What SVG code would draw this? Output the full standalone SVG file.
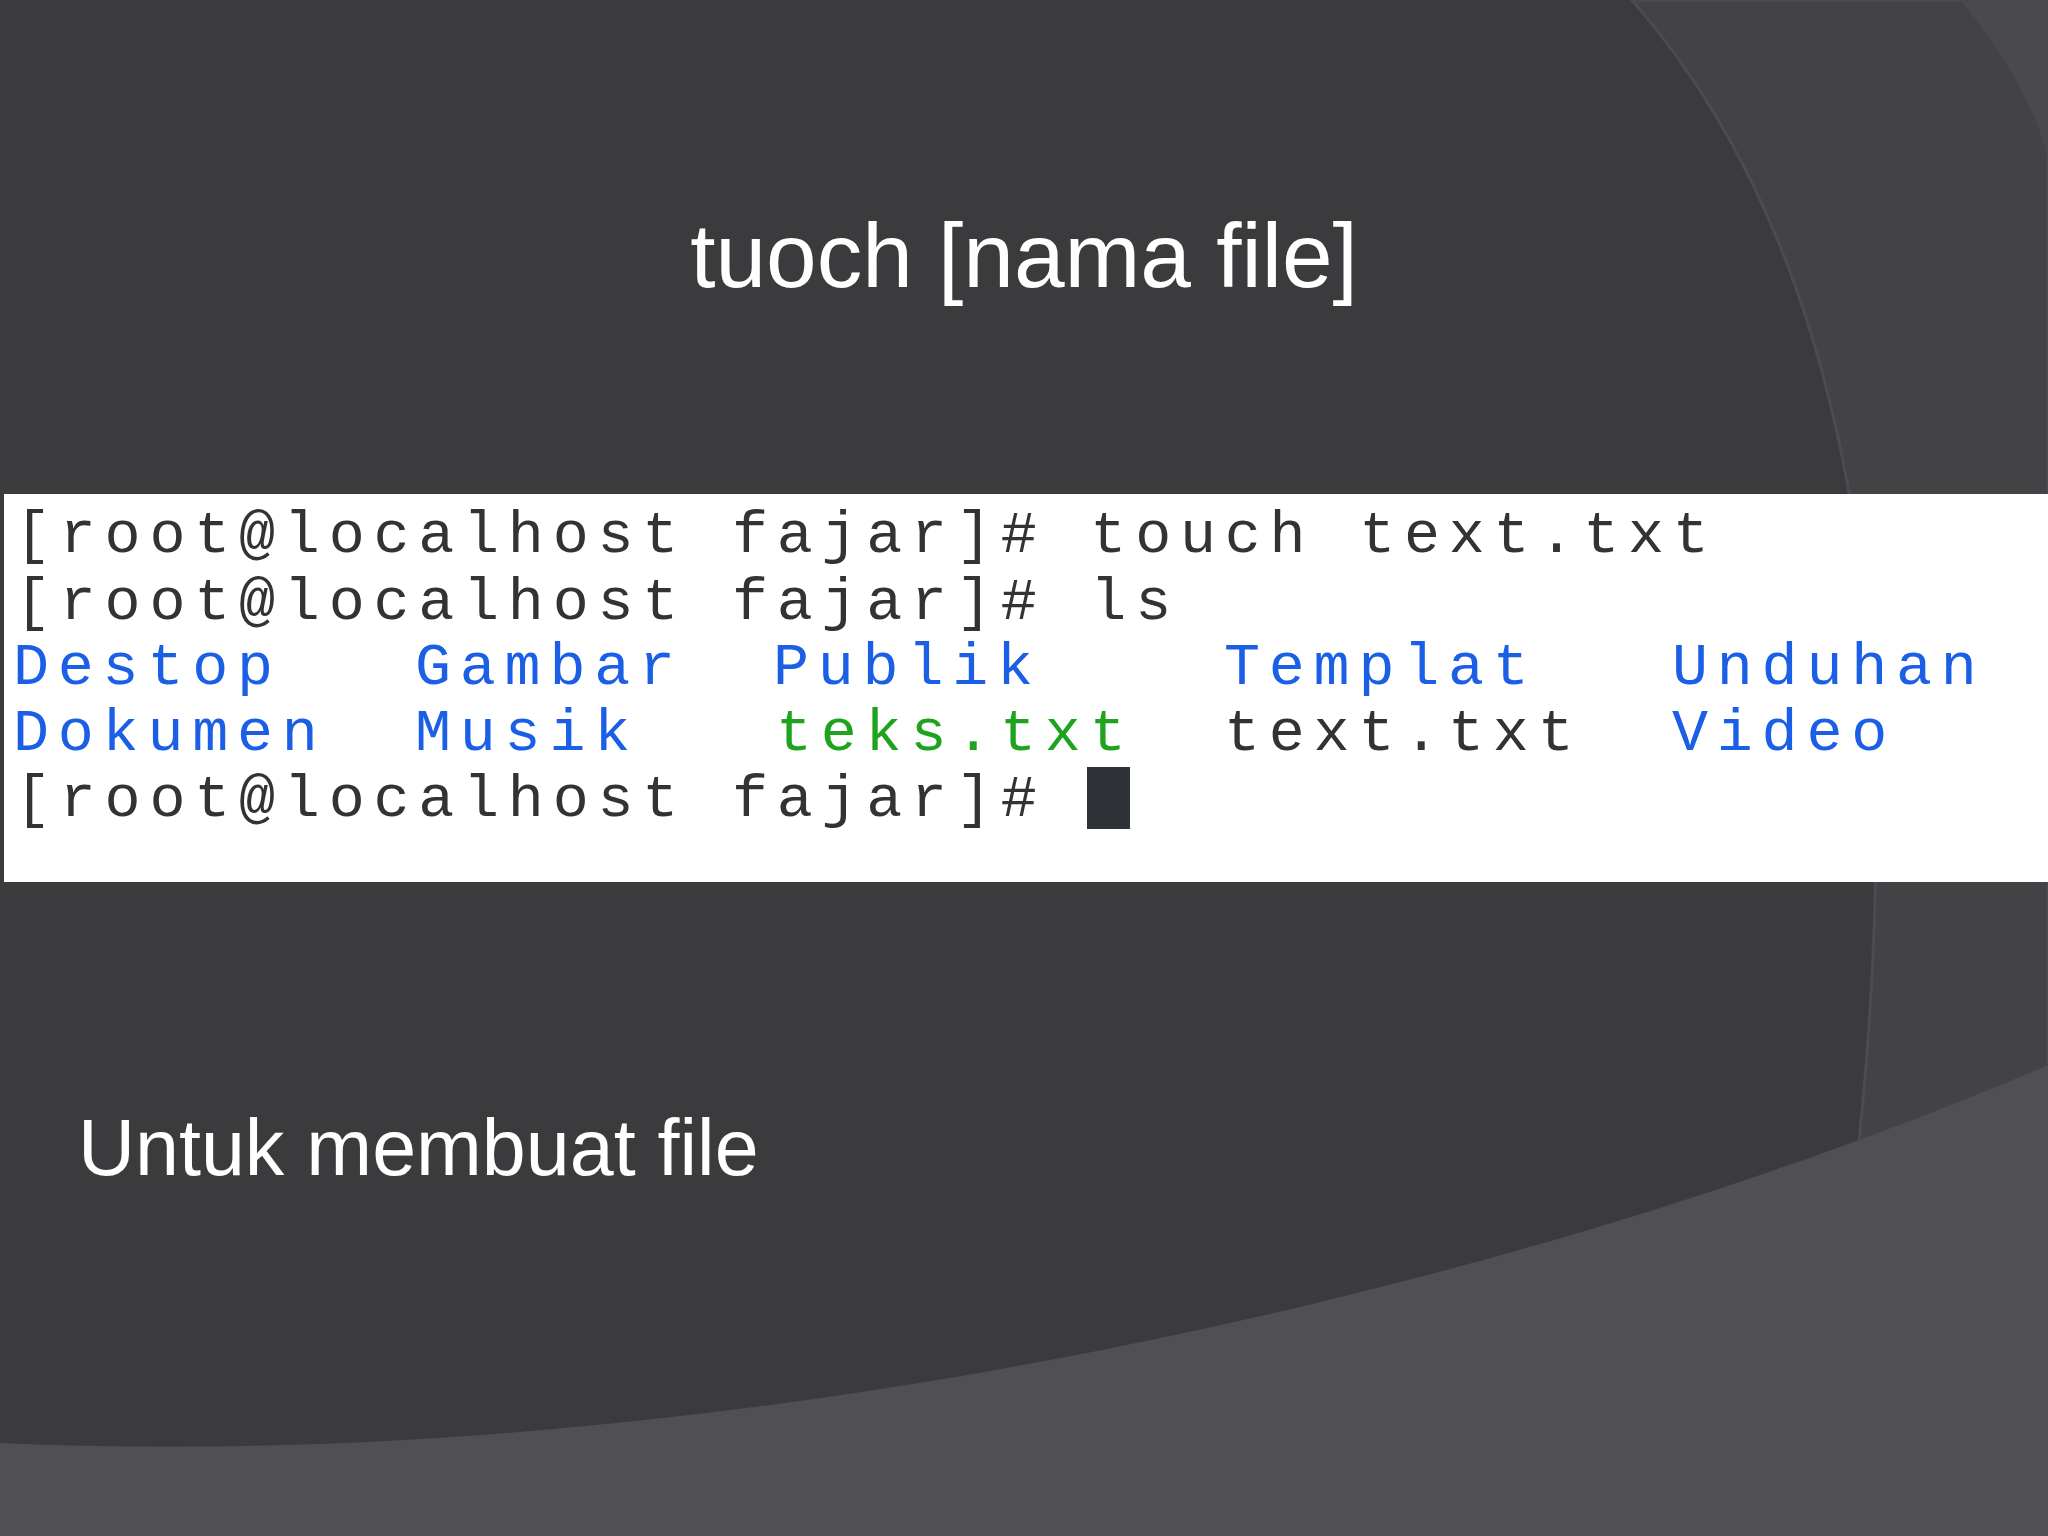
<svg xmlns="http://www.w3.org/2000/svg" width="2048" height="1536" viewBox="0 0 2048 1536">
<style>
.t{font-family:"Liberation Mono",monospace;font-size:60px;letter-spacing:8.8px;white-space:pre}
.d{fill:#333}.b{fill:#1a5fe6}.g{fill:#1fa31f}
.h{font-family:"Liberation Sans",Arial,sans-serif;fill:#fff}
</style>
<rect width="2048" height="1536" fill="#3b3b3d"/>
<g id="bg">
<path d="M1632,0 C1850,250 1960,700 1800,1536 L2048,1536 L2048,0 Z" fill="#434346" stroke="#4c4c50" stroke-width="3"/>
<path d="M1960,0 C2010,60 2040,120 2048,160 L2048,0 Z" fill="#4a4a4d"/>
<path d="M0,1443 C700,1475 1500,1300 2048,1065 L2048,1536 L0,1536 Z" fill="#505053"/>
</g>
<g id="title"><text class="h" x="1024" y="287" font-size="91" text-anchor="middle">tuoch [nama file]</text></g>
<g id="terminal">
<rect x="4" y="494" width="2044" height="388" fill="#fff"/>
<text class="t d" x="15" y="552">[root@localhost fajar]# touch text.txt</text>
<text class="t d" x="15" y="619">[root@localhost fajar]# ls</text>
<text class="t b" x="13" y="684">Destop</text>
<text class="t b" x="415" y="684">Gambar</text>
<text class="t b" x="773" y="684">Publik</text>
<text class="t b" x="1224" y="684">Templat</text>
<text class="t b" x="1672" y="684">Unduhan</text>
<text class="t b" x="13" y="750">Dokumen</text>
<text class="t b" x="415" y="750">Musik</text>
<text class="t g" x="776" y="750">teks.txt</text>
<text class="t d" x="1224" y="750">text.txt</text>
<text class="t b" x="1672" y="750">Video</text>
<text class="t d" x="15" y="816">[root@localhost fajar]#</text>
<rect x="1087" y="767" width="43" height="62" fill="#2f3338"/>
</g>
<g id="caption"><text class="h" x="78" y="1175" font-size="79">Untuk membuat file</text></g>
</svg>
